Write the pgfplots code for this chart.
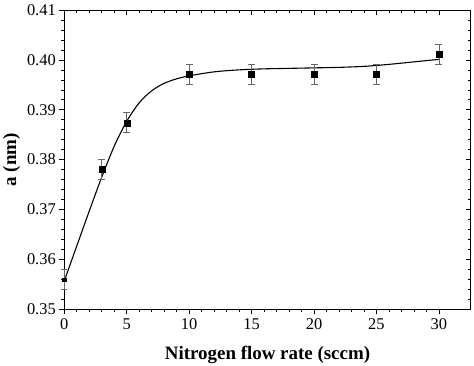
\documentclass[border=0pt]{standalone}
\usepackage{fontspec}
\setmainfont{Liberation Serif}
\usepackage{pgfplots}
\pgfplotsset{compat=1.18}
\begin{document}
\begin{tikzpicture}
\pgfplotsset{
  common/.style={
    scale only axis, width=406.4bp, height=299.3bp,
    xmin=0, xmax=32.55, ymin=0.35, ymax=0.41,
    xtick={0,5,...,30}, ytick={0.35,0.36,...,0.41},
    minor x tick num=4, minor y tick num=4,
    major tick length=5bp, minor tick length=3bp,
    every tick/.style={black, line width=0.6pt},
    axis line style={line width=0.9pt},
  }
}
\begin{axis}[common, name=main,
  axis x line*=bottom, axis y line*=left, tick align=outside,
  axis line style={line width=0.9pt,-},
  /pgf/number format/assume math mode=true,
  yticklabel style={/pgf/number format/fixed, /pgf/number format/fixed zerofill, /pgf/number format/precision=2},
  ticklabel style={font=\fontsize{16.5}{19}\selectfont},
  xticklabel style={yshift=-1bp},
  xlabel={\textbf{Nitrogen flow rate (sccm)}},
  ylabel={\textbf{a (nm)}},
  label style={font=\fontsize{19}{22}\selectfont},
  xlabel style={at={(axis description cs:0.5,0)}, anchor=center, yshift=-46bp},
  ylabel style={at={(axis description cs:-0.13,0.5)}, anchor=center},
  clip=false,
]
\addplot[black, line width=1.1pt, smooth, tension=0.5] coordinates {
(0,0.3557) (1,0.3627) (2,0.3697) (3,0.3765) (4,0.3827) (5,0.3877)
(6,0.3914) (7,0.3938) (8,0.3953) (9,0.3962) (10,0.3968) (12,0.3976)
(14,0.3980) (16,0.3982) (18,0.3983) (20,0.3984) (22,0.3985) (24,0.3987)
(26,0.3991) (28,0.3996) (30,0.4001)
};
\addplot[only marks, mark=square*, mark size=3bp, black,
  error bars/.cd, y dir=both, y explicit,
  error bar style={gray!80!black, line width=0.7pt},
  error mark options={rotate=90, mark size=3.5bp, gray!80!black, line width=0.7pt}]
  table[x=x, y=y, y error=e] {
x y e
3 0.378 0.002
5 0.3874 0.002
10 0.3971 0.002
15 0.3971 0.002
20 0.3971 0.002
25 0.3971 0.002
30 0.4011 0.002
};
\addplot[only marks, mark=square*, mark size=1.6bp, black,
  error bars/.cd, y dir=both, y explicit,
  error bar style={gray!80!black, line width=0.7pt},
  error mark options={rotate=90, mark size=3bp, gray!80!black, line width=0.7pt}]
  table[x=x, y=y, y error=e] {
x y e
0 0.356 0.002
};
\end{axis}
\begin{axis}[common,
  axis x line*=top, axis y line*=right, tick align=inside,
  axis line style={line width=0.9pt,-},
  xticklabels={}, yticklabels={},
]
\end{axis}
\pgfresetboundingbox
\path ([shift={(-64.3bp,-56.7bp)}]main.south west) rectangle ([shift={(3.3bp,10bp)}]main.north east);
\end{tikzpicture}
\end{document}
